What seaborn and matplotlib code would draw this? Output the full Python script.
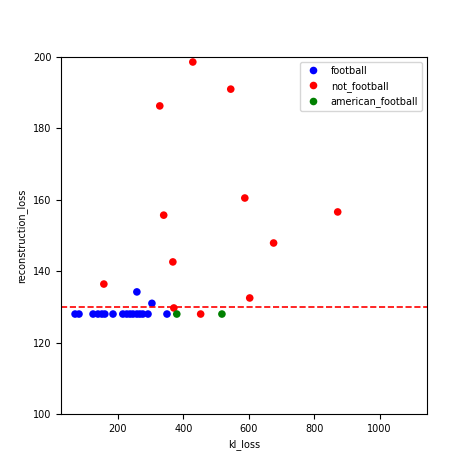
import pandas as pd
import matplotlib
matplotlib.use('Agg')
import matplotlib.pyplot as plt
import seaborn as sns

football_kl = [69, 81, 124, 139, 151, 160, 185, 215, 227, 237, 246, 258, 267, 276, 292, 350, 258, 304]
football_rec = [128]*16 + [134.2, 131]
not_kl = [157, 371, 453, 603, 328, 429, 545, 340, 368, 588, 676, 872]
not_rec = [136.4, 129.7, 128, 132.5, 186.3, 198.6, 191, 155.7, 142.6, 160.5, 147.9, 156.6]
amer_kl = [380, 518]
amer_rec = [128, 128]
threshold = 130

df = pd.DataFrame({
    'kl_loss': football_kl + not_kl + amer_kl,
    'reconstruction_loss': football_rec + not_rec + amer_rec,
    'label': ['football']*len(football_kl) + ['not_football']*len(not_kl) + ['american_football']*len(amer_kl),
})

fig = plt.figure(figsize=(4.74, 4.74), dpi=100)
ax = fig.add_axes([61/474, 60/474, 366/474, 357/474])
sns.scatterplot(data=df, x='kl_loss', y='reconstruction_loss', hue='label',
                palette={'football': 'blue', 'not_football': 'red', 'american_football': 'green'},
                s=30, edgecolor='none', ax=ax)
ax.axhline(threshold, color='red', linestyle='--', linewidth=1.2)
ax.set_xlim(26, 1145)
ax.set_ylim(100, 200)
ax.set_xticks([200, 400, 600, 800, 1000])
ax.set_yticks([100, 120, 140, 160, 180, 200])
ax.tick_params(labelsize=7)
ax.set_xlabel('kl_loss', fontsize=7)
ax.set_ylabel('reconstruction_loss', fontsize=7)
ax.legend(loc='upper right', fontsize=7, title=None)
fig.savefig('out.png')
